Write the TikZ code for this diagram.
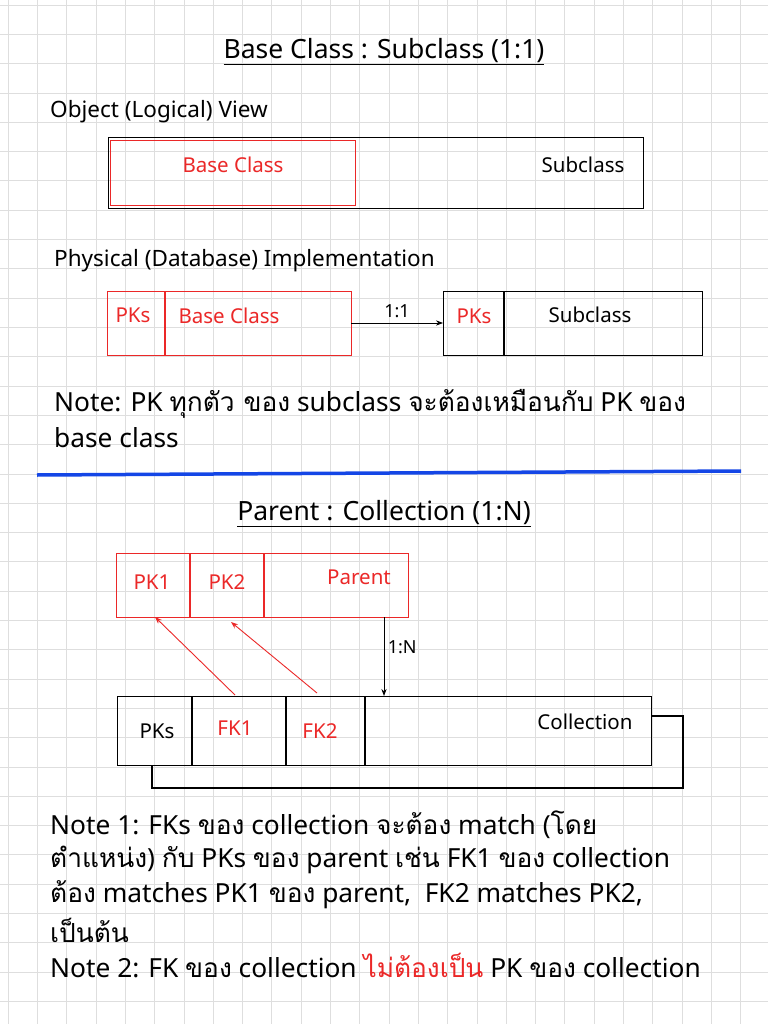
\documentclass[tikz,border=0pt]{standalone}
\usepackage{fontspec}
\setmainfont{Noto Sans}
\IfFontExistsTF{Loma}{\newfontfamily\thfont{Loma}[Script=Thai]}{\newfontfamily\thfont{Noto Sans}}
\newcommand\thx[1]{{\thfont #1}}
\usetikzlibrary{arrows.meta}
\definecolor{rd}{RGB}{235,40,40}
\definecolor{bl}{RGB}{20,70,230}
\begin{document}
\begin{tikzpicture}[x=1pt,y=-1pt,
  box/.style={draw,line width=1.2pt},
  rbox/.style={draw=rd,line width=1.2pt},
  lbl/.style={font=\fontsize{20.5}{23}\selectfont},
  note/.style={font=\fontsize{26.3}{30}\selectfont,anchor=west,inner sep=0},
  arr/.style={-{Stealth[length=7pt]},line width=0.9pt}]
\useasboundingbox (0,0) rectangle (768,1024);
\fill[white] (0,0) rectangle (768,1024);
\foreach \i in {0,...,26} {\draw[black!13,line width=0.6pt] (8+29.3*\i,0) -- (8+29.3*\i,1024);}
\foreach \i in {0,...,35} {\draw[black!13,line width=0.6pt] (0,5+29.3*\i) -- (768,5+29.3*\i);}
% top section
\node (t1) at (384,52) {\fontsize{26.5}{30}\selectfont\underline{Base Class : Subclass (1:1)}};
\node[anchor=west,inner sep=0] (ov) at (50,112) {\fontsize{22.5}{26}\selectfont Object (Logical) View};
\node[box,minimum width=535pt,minimum height=71pt,anchor=north west] (sub) at (108,137) {};
\node[rbox,minimum width=245pt,minimum height=65pt,anchor=north west] (base) at (110,140) {};
\node[lbl,text=rd] (bct) at (233,165) {Base Class};
\node[lbl] (sct) at (583,165) {Subclass};
\node[anchor=west,inner sep=0] (pv) at (54,261) {\fontsize{22.5}{26}\selectfont Physical (Database) Implementation};
\node[rbox,minimum width=244pt,minimum height=64pt,anchor=north west] (pb) at (107,291) {};
\draw[rd,line width=1.2pt] (165,291) -- (165,355);
\node[lbl,text=rd] (pbk) at (133,315) {PKs};
\node[lbl,text=rd] (pbn) at (229,316) {Base Class};
\node[box,minimum width=259pt,minimum height=64pt,anchor=north west] (ps) at (443,291) {};
\draw[line width=1.2pt] (504,291) -- (504,355);
\node[lbl,text=rd] (psk) at (474,316) {PKs};
\node[lbl] (psn) at (590,315) {Subclass};
\coordinate (a1) at (351,323); \coordinate (a2) at (443,323);
\draw[arr] (a1) -- node[above,font=\fontsize{18}{20}\selectfont,yshift=1pt] {1:1} (a2);
\node[note] (n0) at (54,404) {Note: PK \thx{ทุกตัว ของ} subclass \thx{จะต้องเหมือนกับ} PK \thx{ของ}};
\node[note] (n0b) at (54,438) {base class};
\draw[bl,line width=3.5pt] (37,475) -- (741,471);
% bottom section
\node (t2) at (384,514) {\fontsize{26.5}{30}\selectfont\underline{Parent : Collection (1:N)}};
\node[rbox,minimum width=292pt,minimum height=64pt,anchor=north west] (par) at (116,553) {};
\draw[rd,line width=1.2pt] (190,553) -- (190,617) (264,553) -- (264,617);
\node[lbl,text=rd] (pk1) at (152,582) {PK1};
\node[lbl,text=rd] (pk2) at (227,582) {PK2};
\node[lbl,text=rd] (pn) at (359,577) {Parent};
\node[box,minimum width=534pt,minimum height=69pt,anchor=north west] (col) at (117,696) {};
\draw[line width=1.2pt] (192,696) -- (192,765) (286,696) -- (286,765) (365,696) -- (365,765);
\node[lbl] (cpk) at (157,731) {PKs};
\node[lbl,text=rd] (fk1) at (235,728) {FK1};
\node[lbl,text=rd] (fk2) at (320,731) {FK2};
\node[lbl] (cn) at (585,722) {Collection};
\coordinate (b1) at (384,617); \coordinate (b2) at (384,696);
\draw[arr] (b1) -- node[right,font=\fontsize{18}{20}\selectfont,pos=0.38] {1:N} (b2);
\coordinate (r1a) at (235,695); \coordinate (r1b) at (155,617);
\coordinate (r2a) at (317,693); \coordinate (r2b) at (231,622);
\draw[arr,rd] (r1a) -- (r1b);
\draw[arr,rd] (r2a) -- (r2b);
\coordinate (s1) at (651,716); \coordinate (s2) at (152,765);
\draw[line width=1.2pt] (s1) -- (683,716) -- (683,788) -- (152,788) -- (s2);
\node[note] (m1) at (50,825) {Note 1: FKs \thx{ของ} collection \thx{จะต้อง} match (\thx{โดย}};
\node[note] (m2) at (50,860) {\thx{ตำแหน่ง}) \thx{กับ} PKs \thx{ของ} parent \thx{เช่น} FK1 \thx{ของ} collection};
\node[note] (m3) at (50,895) {\thx{ต้อง} matches PK1 \thx{ของ} parent,\ \ FK2 matches PK2,};
\node[note] (m4) at (50,930) {\thx{เป็นต้น}};
\node[note] (m5) at (50,966) {Note 2: FK \thx{ของ} collection \textcolor{rd}{\thx{ไม่ต้องเป็น}} PK \thx{ของ} collection};
\end{tikzpicture}
\end{document}
